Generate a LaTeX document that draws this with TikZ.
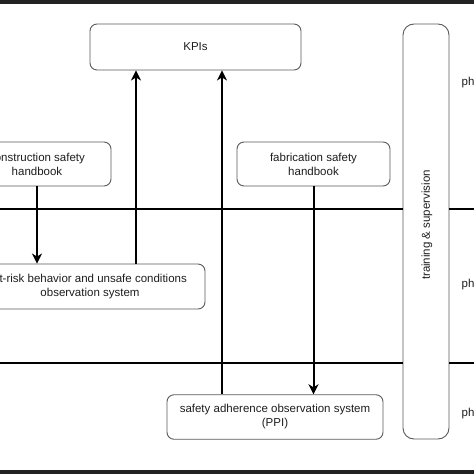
\documentclass[tikz,border=0pt]{standalone}
\usepackage{fontspec}
\setmainfont{Liberation Sans}
\usetikzlibrary{arrows.meta}
\definecolor{boxgray}{HTML}{5A5A5A}
\definecolor{txt}{HTML}{1E1E1E}
\definecolor{band}{HTML}{222222}
\begin{document}
\begin{tikzpicture}[x=1pt,y=-1pt,
  box/.style={draw=boxgray, line width=0.9pt, rounded corners=7pt, align=center,
    font=\fontsize{11.5}{14}\selectfont, text=txt, inner sep=0pt, fill=white},
  hline/.style={line width=2pt, draw=black},
  arr/.style={line width=2pt, draw=black, -{Stealth[length=10pt, width=10pt, inset=3pt]}},
  phlabel/.style={anchor=west, inner sep=0pt, font=\fontsize{11.5}{14}\selectfont, text=txt}]
\useasboundingbox (0,0) rectangle (474,474);
\clip (0,0) rectangle (474,474);
\fill[white] (0,0) rectangle (474,474);
\fill[band] (0,0) rectangle (474,3.5);
\fill[band] (0,470) rectangle (474,474);

\node[box, minimum width=211pt, minimum height=46pt] (kpi) at (195.5,47) {KPIs};
\node[box, minimum width=148pt, minimum height=44pt] (cons) at (37,164) {construction safety\\handbook};
\node[box, minimum width=153pt, minimum height=44pt] (fab) at (313.5,164) {fabrication safety\\handbook};
\node[box, minimum width=230pt, minimum height=45pt] (risk) at (90,286.5) {at-risk behavior and unsafe conditions\\observation system};
\node[box, minimum width=216pt, minimum height=44.5pt] (ppi) at (275,417) {safety adherence observation system\\(PPI)};
\node[box, rounded corners=11pt, minimum width=46pt, minimum height=415pt] (train) at (426,231.5) {};
\node[rotate=90, font=\fontsize{11.5}{14}\selectfont, text=txt, inner sep=0pt] (trainlbl) at (427,225) {training \& supervision};

\coordinate (l1) at (0,209);
\coordinate (l1e) at (474,209);
\coordinate (l2) at (0,363);
\coordinate (l2e) at (474,363);
\draw[hline] (l1) -- (l1 -| train.west);
\draw[hline] (l1 -| train.east) -- (l1e);
\draw[hline] (l2) -- (l2 -| train.west);
\draw[hline] (l2 -| train.east) -- (l2e);

\coordinate (x136) at (136,0);
\coordinate (x222) at (222,0);
\draw[arr] (cons.south) -- (risk.north -| cons.south);
\draw[arr] (risk.north -| x136) -- (kpi.south -| x136);
\draw[arr] (ppi.north -| x222) -- (kpi.south -| x222);
\draw[arr] (fab.south) -- (ppi.north -| fab.south);

\node[phlabel] (ph1) at (461.5,83) {ph};
\node[phlabel] (ph2) at (461.5,285) {ph};
\node[phlabel] (ph3) at (461.5,414) {ph};
\end{tikzpicture}
\end{document}
